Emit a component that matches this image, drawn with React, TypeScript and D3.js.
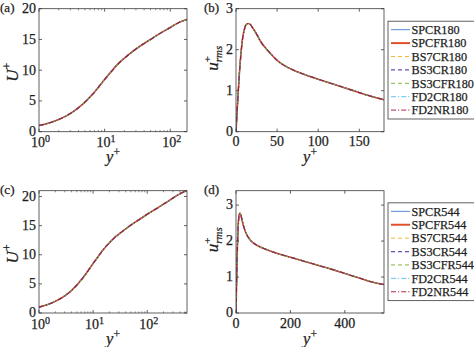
import React from 'react';
import * as d3 from 'd3';

// ---------------- data ----------------
const seriesNames180 = ['SPCR180', 'SPCFR180', 'BS7CR180', 'BS3CR180', 'BS3CFR180', 'FD2CR180', 'FD2NR180'];
const seriesNames544 = ['SPCR544', 'SPCFR544', 'BS7CR544', 'BS3CR544', 'BS3CFR544', 'FD2CR544', 'FD2NR544'];

// mean velocity, Re_tau = 180
const meanYPlus180 = [1, 1.5, 2, 3, 4, 5, 6, 7, 8, 10, 12, 15, 20, 25, 30, 40, 50, 60, 80, 100, 120, 150, 180];
const meanU180 = [1.0, 1.5, 2.0, 2.95, 3.9, 4.8, 5.65, 6.45, 7.2, 8.5, 9.5, 10.7, 11.95, 12.8, 13.45, 14.35, 15.0, 15.55, 16.35, 16.95, 17.45, 17.95, 18.25];

// rms velocity, Re_tau = 180
const rmsYPlus180 = [0, 1, 2, 3, 4, 5, 6, 8, 10, 12, 15, 18, 20, 25, 30, 40, 50, 60, 70, 80, 100, 120, 140, 160, 180];
const rmsU180 = [0, 0.36, 0.72, 1.06, 1.38, 1.66, 1.9, 2.27, 2.48, 2.6, 2.64, 2.6, 2.54, 2.38, 2.2, 1.95, 1.74, 1.6, 1.5, 1.42, 1.28, 1.15, 1.02, 0.89, 0.78];

// mean velocity, Re_tau = 544
const meanYPlus544 = [1, 1.5, 2, 3, 4, 5, 6, 7, 8, 10, 12, 15, 20, 25, 30, 40, 50, 60, 80, 100, 150, 200, 250, 300, 400, 500, 544];
const meanU544 = [1.0, 1.5, 2.0, 2.95, 3.9, 4.8, 5.65, 6.45, 7.2, 8.5, 9.5, 10.75, 12.05, 12.95, 13.55, 14.45, 15.1, 15.6, 16.35, 16.95, 17.95, 18.7, 19.25, 19.75, 20.45, 20.9, 21.0];

// rms velocity, Re_tau = 544
const rmsYPlus544 = [0, 1, 2, 3, 4, 5, 6, 8, 10, 12, 15, 18, 20, 25, 30, 40, 50, 60, 80, 100, 150, 200, 250, 300, 350, 400, 450, 500, 544];
const rmsU544 = [0, 0.38, 0.76, 1.12, 1.45, 1.75, 2.02, 2.42, 2.64, 2.74, 2.77, 2.72, 2.66, 2.5, 2.36, 2.17, 2.05, 1.97, 1.87, 1.8, 1.66, 1.55, 1.44, 1.33, 1.22, 1.1, 0.98, 0.86, 0.79];

const meanTicksY = [0, 5, 10, 15, 20];
const logTicksX = [1, 10, 100];
const rmsTicksY = [0, 1, 2, 3];
const rmsTicksX180 = [0, 50, 100, 150];
const rmsTicksX544 = [0, 200, 400];

// ---------------- styles ----------------
const seriesStyles = [
  { color: '#3f7fd6', width: 0.9, dash: '' },
  { color: '#e0522e', width: 2.0, dash: '' },
  { color: '#EDB120', width: 0.9, dash: '4,3' },
  { color: '#6a4fb8', width: 1.2, dash: '4,3' },
  { color: '#77AC30', width: 0.9, dash: '4,3' },
  { color: '#4DBEEE', width: 0.9, dash: '5,2,1.2,2' },
  { color: '#A2142F', width: 0.9, dash: '5,2,1.2,2' },
];

const AX = '#1e1e1e';
const FRAME = '#3a3a3a';
const FONT = '"Liberation Serif", "DejaVu Serif", serif';
const TS = { stroke: AX, strokeWidth: 0.25 };

type PanelProps = {
  label: string;
  left: number; right: number; top: number; bottom: number;
  log: boolean;
  xDomain: [number, number];
  yDomain: [number, number];
  xTicks: number[];
  yTicks: number[];
  xs: number[];
  ys: number[];
  yLabel: 'U' | 'urms';
  legend?: string[];
};

function Panel(p: PanelProps) {
  const x = p.log
    ? d3.scaleLog().domain(p.xDomain).range([p.left, p.right])
    : d3.scaleLinear().domain(p.xDomain).range([p.left, p.right]);
  const y = d3.scaleLinear().domain(p.yDomain).range([p.bottom, p.top]);
  const pts = p.xs.map((v, i) => [v, p.ys[i]] as [number, number]);
  const line = d3.line<[number, number]>()
    .x(d => x(d[0]) as number)
    .y(d => y(d[1]))
    .curve(d3.curveMonotoneX);
  const path = line(pts) || '';
  const tl = 3;
  const midX = (p.left + p.right) / 2;
  const midY = (p.top + p.bottom) / 2;
  const clipId = 'clip-' + p.label;
  const minor = p.log
    ? (x as d3.ScaleLogarithmic<number, number>).ticks().filter(t => !p.xTicks.includes(t))
    : [];

  return (
    <g>
      <defs>
        <clipPath id={clipId}>
          <rect x={p.left} y={p.top - 1} width={p.right - p.left} height={p.bottom - p.top + 2} />
        </clipPath>
      </defs>
      <rect x={p.left} y={p.top} width={p.right - p.left} height={p.bottom - p.top} fill="#fff" />
      {/* series */}
      <g clipPath={`url(#${clipId})`}>
        {seriesStyles.map((s, i) => (
          <path key={i} d={path} fill="none" stroke={s.color} strokeWidth={s.width === 2.0 ? 1.6 : 1.1}
            strokeDasharray={s.dash || undefined} />
        ))}
      </g>
      {/* frame */}
      <rect x={p.left} y={p.top} width={p.right - p.left} height={p.bottom - p.top} fill="none" stroke={FRAME} strokeWidth={0.8} />
      {/* minor ticks */}
      {minor.map((t, i) => {
        const xx = x(t) as number;
        return (
          <g key={'mt' + i}>
            <line x1={xx} x2={xx} y1={p.bottom} y2={p.bottom - 1.6} stroke={FRAME} strokeWidth={0.6} />
            <line x1={xx} x2={xx} y1={p.top} y2={p.top + 1.6} stroke={FRAME} strokeWidth={0.6} />
          </g>
        );
      })}
      {/* x ticks */}
      {p.xTicks.map((t, i) => {
        const xx = x(t) as number;
        return (
          <g key={'xt' + i}>
            <line x1={xx} x2={xx} y1={p.bottom} y2={p.bottom - tl} stroke={FRAME} strokeWidth={0.8} />
            <line x1={xx} x2={xx} y1={p.top} y2={p.top + tl} stroke={FRAME} strokeWidth={0.8} />
            {p.log ? (
              <text x={xx + 1.5} y={p.bottom + 15.5} textAnchor="middle" fontFamily={FONT} fontSize={14} fill={AX} {...TS}>
                <tspan>10</tspan>
                <tspan dy={-5} fontSize={10}>{Math.round(Math.log10(t))}</tspan>
              </text>
            ) : (
              <text x={xx} y={p.bottom + 14.5} textAnchor="middle" fontFamily={FONT} fontSize={14} fill={AX} {...TS}>{t}</text>
            )}
          </g>
        );
      })}
      {/* y ticks */}
      {p.yTicks.map((t, i) => {
        const yy = y(t);
        return (
          <g key={'yt' + i}>
            <line x1={p.left} x2={p.left + tl} y1={yy} y2={yy} stroke={FRAME} strokeWidth={0.8} />
            <line x1={p.right} x2={p.right - tl} y1={yy} y2={yy} stroke={FRAME} strokeWidth={0.8} />
            <text x={p.left - 3} y={yy + 4.3} textAnchor="end" fontFamily={FONT} fontSize={14} fill={AX} {...TS}>{t}</text>
          </g>
        );
      })}
      {/* x label */}
      <text x={midX} y={p.bottom + 30.5} textAnchor="middle" fontFamily={FONT} fontSize={16.5} fill={AX} {...TS}>
        <tspan fontStyle="italic">y</tspan>
        <tspan dy={-6} fontSize={11.5}>+</tspan>
      </text>
      {/* y label */}
      {p.yLabel === 'U' ? (
        <text transform={`translate(${p.left - 21},${midY + 2}) rotate(-90)`} textAnchor="middle" fontFamily={FONT} fontSize={17} fill={AX} {...TS}>
          <tspan fontStyle="italic">U</tspan>
          <tspan dy={-7} fontSize={12}>+</tspan>
        </text>
      ) : (
        <text transform={`translate(${p.left - 18},${midY - 12}) rotate(-90)`} textAnchor="middle" fontFamily={FONT} fontSize={17} fill={AX} {...TS}>
          <tspan fontStyle="italic">u</tspan>
          <tspan dy={-7} fontSize={11}>+</tspan>
          <tspan dx={-6.2} dy={10.5} fontSize={11} fontStyle="italic">rms</tspan>
        </text>
      )}
      {/* panel label */}
      <text x={p.left - (p.log ? 39 : 32)} y={p.top + 3.5} fontFamily={FONT} fontSize={13} fill={AX} {...TS}>({p.label})</text>
      {/* legend */}
      {p.legend && (() => {
        const rowH = 13.4;
        const lx = p.right + 4;
        const ltop = midY - 49;
        return (
          <g>
            <rect x={lx} y={ltop} width={100} height={rowH * p.legend.length + 4} fill="#fff" stroke={FRAME} strokeWidth={0.8} />
            {p.legend.map((name, i) => {
              const s = seriesStyles[i];
              const yy = ltop + 8.5 + i * rowH;
              return (
                <g key={name}>
                  <line x1={lx + 3} x2={lx + 22} y1={yy} y2={yy} stroke={s.color} strokeWidth={s.width}
                    strokeDasharray={s.dash || undefined} />
                  <text x={lx + 23.5} y={yy + 4.3} fontFamily={FONT} fontSize={12.2} fill={AX} {...TS}>{name}</text>
                </g>
              );
            })}
          </g>
        );
      })()}
    </g>
  );
}

export default function App() {
  return (
    <svg width={474} height={347} viewBox="0 0 474 347"
      style={{ position: 'absolute', left: 0, top: 0, background: '#fff' }}>
      <rect x={0} y={0} width={474} height={347} fill="#fff" />
      <Panel label="a" left={39} right={187} top={8.7} bottom={131.7} log xDomain={[1, 180]} yDomain={[0, 20]}
        xTicks={logTicksX} yTicks={meanTicksY} xs={meanYPlus180} ys={meanU180} yLabel="U" />
      <Panel label="b" left={236} right={384} top={8.7} bottom={131.7} log={false} xDomain={[0, 180]} yDomain={[0, 3]}
        xTicks={rmsTicksX180} yTicks={rmsTicksY} xs={rmsYPlus180} ys={rmsU180} yLabel="urms" legend={seriesNames180} />
      <Panel label="c" left={39} right={187} top={190.7} bottom={313} log xDomain={[1, 544]} yDomain={[0, 21]}
        xTicks={logTicksX} yTicks={meanTicksY} xs={meanYPlus544} ys={meanU544} yLabel="U" />
      <Panel label="d" left={236} right={384} top={190.7} bottom={313} log={false} xDomain={[0, 544]} yDomain={[0, 3.4]}
        xTicks={rmsTicksX544} yTicks={rmsTicksY} xs={rmsYPlus544} ys={rmsU544} yLabel="urms" legend={seriesNames544} />
    </svg>
  );
}
